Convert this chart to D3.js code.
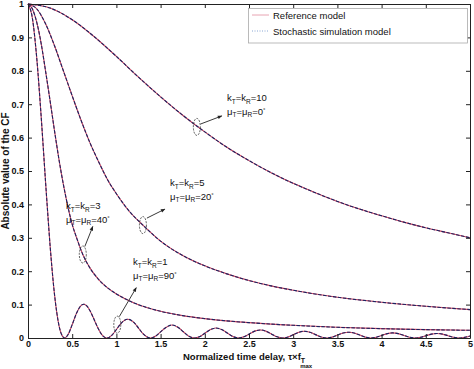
<!DOCTYPE html>
<html><head><meta charset="utf-8">
<script src="https://cdn.jsdelivr.net/npm/d3@7/dist/d3.min.js"></script>
<style>
body{margin:0;background:#fff}
text{font-family:"Liberation Sans",Arial,sans-serif}
</style>
</head><body>
<svg id="chart" width="474" height="369"></svg>
<script>
// ---------- data ----------
const xTicks = [0,0.5,1,1.5,2,2.5,3,3.5,4,4.5,5];
const xTickLabels = ["0","0.5","1","1.5","2","2.5","3","3.5","4","4.5","5"];
const yTicks = [0,0.1,0.2,0.3,0.4,0.5,0.6,0.7,0.8,0.9,1];
const yTickLabels = ["0","0.1","0.2","0.3","0.4","0.5","0.6","0.7","0.8","0.9","1"];
const seriesNames = ["Reference model","Stochastic simulation model"];

// k_T=k_R=10, mu=0
const tau10 = [0,0.25,0.5,0.75,1,1.25,1.5,1.75,2,2.25,2.5,2.75,3,3.25,3.5,3.75,4,4.25,4.5,4.75,5];
const cf10  = [1,0.988,0.953,0.902,0.843,0.781,0.722,0.667,0.617,0.571,0.531,0.495,0.463,0.435,0.409,0.386,0.366,0.347,0.33,0.315,0.30];
// k_T=k_R=5, mu=20
const tau5 = [0,0.1,0.2,0.3,0.4,0.5,0.6,0.7,0.8,0.9,1,1.15,1.3,1.5,1.75,2,2.25,2.5,2.75,3,3.5,4,4.5,5];
const cf5  = [1,0.985,0.94,0.875,0.80,0.725,0.652,0.585,0.527,0.474,0.432,0.378,0.338,0.29,0.247,0.216,0.192,0.172,0.156,0.143,0.122,0.107,0.095,0.085];
// k_T=k_R=3, mu=40
const tau3 = [0,0.05,0.1,0.15,0.2,0.25,0.3,0.35,0.4,0.45,0.5,0.55,0.62,0.7,0.8,0.9,1,1.2,1.5,1.75,2,2.5,3,3.5,4,4.5,5];
const cf3  = [1,0.985,0.944,0.88,0.797,0.71,0.62,0.535,0.46,0.395,0.34,0.30,0.25,0.21,0.175,0.15,0.132,0.105,0.08,0.067,0.058,0.046,0.038,0.032,0.028,0.025,0.023];
// k_T=k_R=1, mu=90
const tau1 = [0,0.05,0.1,0.15,0.2,0.25,0.3,0.35,0.38,0.4146,0.45,0.5,0.55,0.6,0.63,0.67,0.7,0.75,0.8,0.85,0.893,0.95,1.0,1.05,1.128,1.2,1.25,1.3,1.3865,1.45,1.5,1.56,1.627,1.7,1.76,1.82,1.8835,1.9443,2.005,2.0658,2.1265,2.1903,2.2541,2.3178,2.3816,2.4428,2.504,2.5651,2.6263,2.6899,2.7535,2.817,2.8806,2.942,3.0033,3.0647,3.126,3.1895,3.2529,3.3164,3.3798,3.4414,3.5029,3.5645,3.626,3.6893,3.7525,3.8158,3.879,3.9407,4.0024,4.0641,4.1258,4.189,4.2521,4.3153,4.3785,4.4403,4.5021,4.5639,4.6257,4.6888,4.7519,4.8149,4.878,4.9398,5.0];
const cf1  = [1,0.957,0.835,0.659,0.462,0.276,0.130,0.038,0.0102,0,0.0088,0.040,0.0747,0.0971,0.1012,0.0944,0.0824,0.0541,0.0253,0.0055,0,0.0085,0.0254,0.0433,0.0562,0.0461,0.0297,0.0132,0,0.0067,0.0185,0.0316,0.0389,0.0313,0.018,0.0052,0,0.00435,0.0149,0.0254,0.0298,0.0254,0.0149,0.00435,0,0.00352,0.01205,0.0206,0.0241,0.0206,0.01205,0.00352,0,0.00295,0.0101,0.01725,0.0202,0.01725,0.0101,0.00295,0,0.00255,0.00872,0.0149,0.01744,0.0149,0.00872,0.00255,0,0.00224,0.00766,0.01308,0.01532,0.01308,0.00766,0.00224,0,0.002,0.00684,0.01167,0.01367,0.01167,0.00684,0.002,0,0.0018,0.006];

const curveTaus = [tau10, tau5, tau3, tau1];
const curveVals = [cf10, cf5, cf3, cf1];
const kValues = ["10","5","3","1"];
const muValues = ["0","20","40","90"];
// annotated point on each curve (tau, value)
const markTau = [1.91, 1.3, 0.62, 1.01];
const markVal = [0.632, 0.338, 0.25, 0.04];

// ---------- layout ----------
const svg = d3.select("#chart");
const L = 28, T = 4, R = 470, B = 338;
const x = d3.scaleLinear().domain([0,5]).range([L,R]);
const y = d3.scaleLinear().domain([0,1]).range([B,T]);

const refColor = "#d0455f", simColor = "#1c2260";

// curves
const line = d3.line().x(d=>x(d[0])).y(d=>y(d[1])).curve(d3.curveMonotoneX);
curveTaus.forEach((ts,i)=>{
  const pts = ts.map((t,j)=>[t, curveVals[i][j]]);
  svg.append("path").attr("d", line(pts)).attr("fill","none")
     .attr("stroke", refColor).attr("stroke-width", 1.1);
  svg.append("path").attr("d", line(pts)).attr("fill","none")
     .attr("stroke", simColor).attr("stroke-width", 1.1)
     .attr("stroke-dasharray","3.5,1.5");
});

// axes with inward ticks
const fmtX = (d,i)=>xTickLabels[i];
const fmtY = (d,i)=>yTickLabels[i];
function styleAxis(g){
  g.selectAll("path.domain").attr("stroke","#222");
  g.selectAll(".tick line").attr("stroke","#222");
  g.selectAll("text").attr("font-size","9px").attr("font-weight","bold")
    .attr("font-family","'Liberation Sans',Arial,sans-serif").attr("fill","#111");
}
svg.append("g").attr("transform",`translate(0,${B})`)
  .call(d3.axisBottom(x).tickValues(xTicks).tickFormat(fmtX).tickSizeInner(-4).tickSizeOuter(0).tickPadding(3))
  .call(styleAxis);
svg.append("g").attr("transform",`translate(0,${T})`)
  .call(d3.axisTop(x).tickValues(xTicks).tickFormat("").tickSizeInner(-4).tickSizeOuter(0))
  .call(styleAxis);
svg.append("g").attr("transform",`translate(${L},0)`)
  .call(d3.axisLeft(y).tickValues(yTicks).tickFormat(fmtY).tickSizeInner(-4).tickSizeOuter(0).tickPadding(4))
  .call(styleAxis);
svg.append("g").attr("transform",`translate(${R},0)`)
  .call(d3.axisRight(y).tickValues(yTicks).tickFormat("").tickSizeInner(-4).tickSizeOuter(0))
  .call(styleAxis);

// axis titles
svg.append("text").attr("transform",`translate(9,${(T+B)/2}) rotate(-90)`)
  .attr("text-anchor","middle").attr("font-size","10px").attr("font-weight","bold")
  .attr("fill","#111").text("Absolute value of the CF");
const xl = svg.append("text").attr("x",183).attr("y",360)
  .attr("font-size","9.5px").attr("font-weight","bold").attr("fill","#111");
xl.append("tspan").text("Normalized time delay, \u03C4\u00D7f");
xl.append("tspan").attr("dy",2.5).attr("font-size","7px").text("T");
xl.append("tspan").attr("dy",5).attr("dx",-5).attr("font-size","6px").text("max");

// legend
const lg = svg.append("g");
lg.append("rect").attr("x",248.5).attr("y",8.5).attr("width",219).attr("height",34.5)
  .attr("fill","#fff").attr("stroke","#aaa").attr("stroke-width",0.8);
lg.append("line").attr("x1",252).attr("x2",269).attr("y1",15).attr("y2",15)
  .attr("stroke",refColor).attr("stroke-width",0.8).attr("opacity",0.6);
lg.append("text").attr("x",273).attr("y",18.5).attr("font-size","9.5px").attr("fill","#111").text(seriesNames[0]);
lg.append("line").attr("x1",252).attr("x2",269).attr("y1",31).attr("y2",31)
  .attr("stroke","#6a8fc8").attr("stroke-width",0.8).attr("stroke-dasharray","1,1.5");
lg.append("text").attr("x",273).attr("y",34.5).attr("font-size","9.5px").attr("fill","#111").text(seriesNames[1]);

// annotations
const defs = svg.append("defs");
defs.append("marker").attr("id","ah").attr("viewBox","0 0 10 10").attr("refX",9).attr("refY",5)
  .attr("markerWidth",6).attr("markerHeight",5).attr("orient","auto")
  .append("path").attr("d","M0,1L10,5L0,9Z").attr("fill","#222");

function label(xp, yp, k, mu){
  const t1 = svg.append("text").attr("x",xp).attr("y",yp).attr("font-size","9.5px").attr("fill","#111");
  t1.append("tspan").text("k");
  t1.append("tspan").attr("dy",2.5).attr("font-size","6.5px").text("T");
  t1.append("tspan").attr("dy",-2.5).text("=k");
  t1.append("tspan").attr("dy",2.5).attr("font-size","6.5px").text("R");
  t1.append("tspan").attr("dy",-2.5).text("="+k);
  const t2 = svg.append("text").attr("x",xp).attr("y",yp+13.5).attr("font-size","9.5px").attr("fill","#111");
  t2.append("tspan").text("\u03BC");
  t2.append("tspan").attr("dy",2.5).attr("font-size","6.5px").text("T");
  t2.append("tspan").attr("dy",-2.5).text("=\u03BC");
  t2.append("tspan").attr("dy",2.5).attr("font-size","6.5px").text("R");
  t2.append("tspan").attr("dy",-2.5).text("="+mu);
  t2.append("tspan").attr("dy",-3).attr("font-size","6px").text("\u00B0");
}
// label positions and arrow ends (pixels relative to the marked point)
const ann = [
  {lx:227, ly:101, a:[4,-3,25,-11]},
  {lx:170, ly:186, a:[4,-7,22,-16]},
  {lx:66,  ly:209, a:[2,-8,10,-28]},
  {lx:133, ly:265, a:[2,-8,19,-37]}
];
markTau.forEach((t,i)=>{
  const cx = x(t), cy = y(markVal[i]);
  svg.append("ellipse").attr("cx",cx).attr("cy",cy).attr("rx",3.5).attr("ry",8.5)
    .attr("fill","none").attr("stroke","#333").attr("stroke-width",0.8).attr("stroke-dasharray","2,1.2");
  const a = ann[i].a;
  svg.append("line").attr("x1",cx+a[0]).attr("y1",cy+a[1]).attr("x2",cx+a[2]).attr("y2",cy+a[3])
    .attr("stroke","#222").attr("stroke-width",0.9).attr("marker-end","url(#ah)");
  label(ann[i].lx, ann[i].ly, kValues[i], muValues[i]);
});
</script>
</body></html>
